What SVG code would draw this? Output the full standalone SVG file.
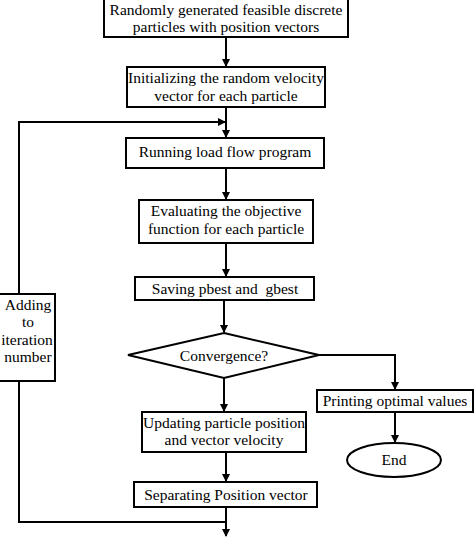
<svg xmlns="http://www.w3.org/2000/svg" width="474" height="539" viewBox="0 0 474 539">
<style>
.b{fill:#fff;stroke:#000;stroke-width:2}
.t{font-family:"Liberation Serif","Times New Roman",serif;font-size:15.5px;fill:#000;text-anchor:middle}
.c{fill:none;stroke:#000;stroke-width:2}
</style>
<defs>
<marker id="a" markerWidth="8" markerHeight="8" refX="7" refY="4" orient="auto" markerUnits="userSpaceOnUse">
<path d="M0,0 L8,4 L0,8 Z" fill="#000"/>
</marker>
</defs>
<rect width="474" height="539" fill="#fff"/>
<g id="connectors">
<path class="c" d="M226,37 V66" marker-end="url(#a)"/>
<path class="c" d="M226,107 V137" marker-end="url(#a)"/>
<path class="c" d="M19,294 V122 H225" marker-end="url(#a)"/>
<path class="c" d="M226,168 V199" marker-end="url(#a)"/>
<path class="c" d="M226,243 V276" marker-end="url(#a)"/>
<path class="c" d="M224,300 V332" marker-end="url(#a)"/>
<path class="c" d="M319,355 H395 V389" marker-end="url(#a)"/>
<path class="c" d="M395,412 V442" marker-end="url(#a)"/>
<path class="c" d="M224,378 V411" marker-end="url(#a)"/>
<path class="c" d="M226,452 V481" marker-end="url(#a)"/>
<path class="c" d="M226,507 V536" marker-end="url(#a)"/>
<path class="c" d="M19,381 V522 H225"/>
</g>
<g id="n1"><rect class="b" x="104" y="-2" width="244" height="39"/>
<text class="t" x="226" y="15">Randomly generated feasible discrete</text>
<text class="t" x="226" y="32">particles with position vectors</text></g>
<g id="n2"><rect class="b" x="127" y="67" width="198" height="40"/>
<text class="t" x="226" y="83">Initializing the random velocity</text>
<text class="t" x="226" y="101">vector for each particle</text></g>
<g id="n3"><rect class="b" x="126" y="138" width="198" height="30"/>
<text class="t" x="225" y="157">Running load flow program</text></g>
<g id="n4"><rect class="b" x="139" y="200" width="174" height="43"/>
<text class="t" x="226" y="216">Evaluating the objective</text>
<text class="t" x="226" y="234">function for each particle</text></g>
<g id="n5"><rect class="b" x="135" y="277" width="179" height="23"/>
<text class="t" x="225" y="294" style="white-space:pre">Saving pbest and  gbest</text></g>
<g id="n6"><path class="b" d="M224,333 L319,355 L224,378 L128,355 Z"/>
<text class="t" x="224" y="361">Convergence?</text></g>
<g id="n7"><rect class="b" x="317" y="390" width="156" height="22"/>
<text class="t" x="395" y="406">Printing optimal values</text></g>
<g id="n8"><ellipse class="b" cx="394" cy="460" rx="47" ry="17"/>
<text class="t" x="394" y="465">End</text></g>
<g id="n9"><rect class="b" x="142" y="412" width="164" height="40"/>
<text class="t" x="224" y="428">Updating particle position</text>
<text class="t" x="224" y="445">and vector velocity</text></g>
<g id="n10"><rect class="b" x="134" y="482" width="183" height="25"/>
<text class="t" x="226" y="500">Separating Position vector</text></g>
<g id="n11"><rect class="b" x="-1" y="294" width="56" height="87"/>
<text class="t" x="28" y="310">Adding</text>
<text class="t" x="28" y="327">to</text>
<text class="t" x="27" y="345">iteration</text>
<text class="t" x="28" y="362">number</text></g>
</svg>
